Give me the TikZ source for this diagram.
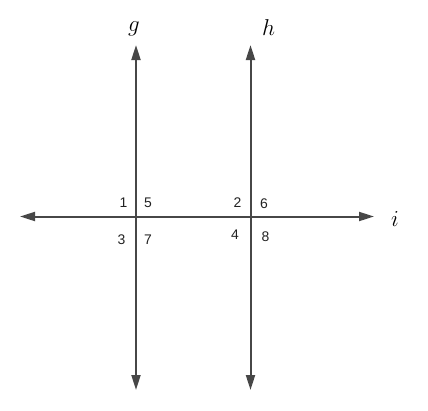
\RequirePackage{fix-cm}
\documentclass[tikz,border=0pt]{standalone}
\usepackage{fontspec}
\setsansfont{Liberation Sans}
\usetikzlibrary{arrows.meta}
\definecolor{linegray}{HTML}{474747}
\definecolor{numgray}{HTML}{222222}
\begin{document}
\begin{tikzpicture}[x=1bp,y=-1bp,
  lineax/.style={draw=linegray,line width=2bp,{Triangle[length=15bp,width=9bp]}-{Triangle[length=15bp,width=9bp]}},
  num/.style={font=\sffamily\fontsize{14}{16}\selectfont,text=numgray,inner sep=0pt},
  lab/.style={font=\fontsize{23}{25}\selectfont,inner sep=0pt}]
\useasboundingbox (0,0) rectangle (428,411);
\coordinate (gt) at (136,45);
\coordinate (gb) at (136,390);
\coordinate (ht) at (250.5,45);
\coordinate (hb) at (250.5,390);
\coordinate (il) at (20,216.5);
\coordinate (ir) at (374,216.5);
\draw[lineax] (gb) -- (gt);
\draw[lineax] (hb) -- (ht);
\draw[lineax] (il) -- (ir);
\node[lab] (g) at (134,29) {$g$};
\node[lab] (h) at (268.5,27.5) {$h$};
\node[lab] (i) at (395,218.5) {$i$};
\node[num] (n1) at (123.5,202.5) {1};
\node[num] (n5) at (148,202.5) {5};
\node[num] (n3) at (121.5,240) {3};
\node[num] (n7) at (148,240) {7};
\node[num] (n2) at (237.5,203) {2};
\node[num] (n6) at (264,203.5) {6};
\node[num] (n4) at (235,234.5) {4};
\node[num] (n8) at (265.5,237) {8};
\end{tikzpicture}
\end{document}
